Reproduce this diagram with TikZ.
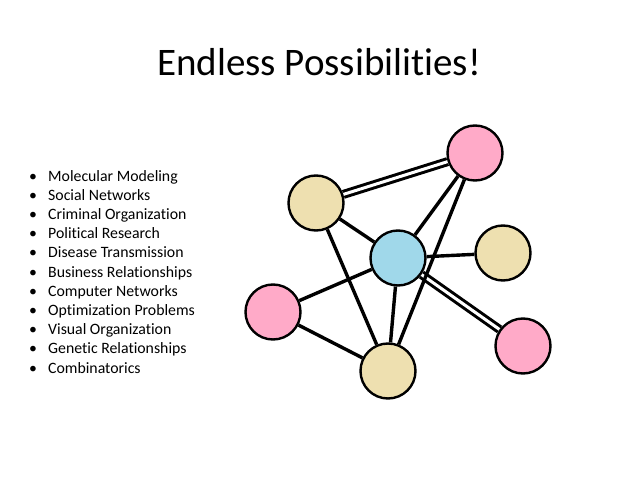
\documentclass[tikz,border=0pt]{standalone}
\usepackage{fontspec}
\setmainfont[Ligatures=NoCommon]{Carlito}
\usetikzlibrary{backgrounds}
\definecolor{pinkfill}{RGB}{255,170,200}
\definecolor{sandfill}{RGB}{238,224,176}
\definecolor{bluefill}{RGB}{160,216,234}
\tikzset{
    vertex/.style={circle, draw=black, line width=2.4pt, minimum size=55pt, inner sep=0pt},
    link/.style={line width=3.4pt},
    twolink/.style={line width=3pt, double=white, double distance=3pt},
    item/.style={anchor=west, font=\fontsize{15.8}{18}\selectfont, text height=11pt, text depth=3pt, inner sep=0pt}
}
\begin{document}
\begin{tikzpicture}[x=1pt,y=-1pt]

\useasboundingbox (0,0) rectangle (638,478);

\node[font=\fontsize{39}{44}\selectfont] (title) at (319,62) {Endless Possibilities!};

\foreach \t [count=\i] in {Molecular Modeling,Social Networks,Criminal Organization,Political Research,Disease Transmission,Business Relationships,Computer Networks,Optimization Problems,Visual Organization,Genetic Relationships,Combinatorics}
    \node[item] (item\i) at (29, 158+19.2*\i) {\makebox[19pt][l]{•}\t};

\node[vertex, fill=pinkfill] (ptop) at (475,153) {};
\node[vertex, fill=sandfill] (sleft) at (316,203) {};
\node[vertex, fill=bluefill] (hub) at (398,258) {};
\node[vertex, fill=sandfill] (sright) at (503,253) {};
\node[vertex, fill=pinkfill] (pleft) at (273,312) {};
\node[vertex, fill=pinkfill] (pright) at (523,346) {};
\node[vertex, fill=sandfill] (sbottom) at (388,371) {};

\begin{scope}[on background layer]
\draw [twolink] (sleft) -- (ptop);
\draw [twolink] (hub) -- (pright);
\foreach \a/\b in {sleft/hub,sleft/sbottom,ptop/hub,ptop/sbottom,hub/sright,hub/pleft,hub/sbottom,pleft/sbottom}
    \draw [link] (\a) -- (\b);
\end{scope}

\end{tikzpicture}
\end{document}
